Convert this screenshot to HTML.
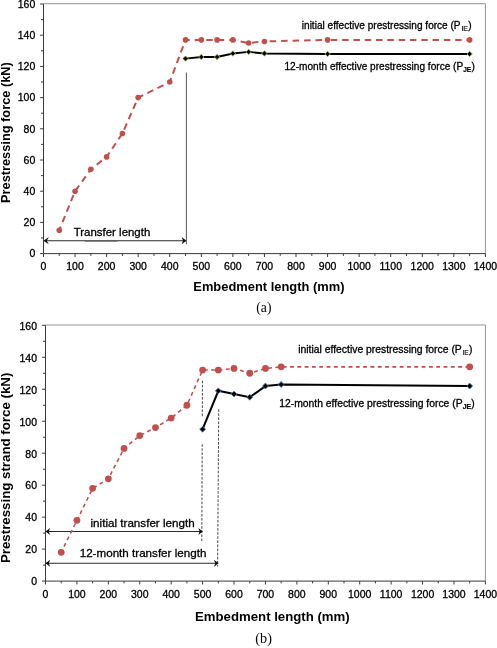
<!DOCTYPE html>
<html><head><meta charset="utf-8"><title>Prestressing force vs embedment length</title>
<style>
html,body{margin:0;padding:0;background:#fff;}
svg{display:block;}
text{font-family:"Liberation Sans",Arial,sans-serif;fill:#000;}
.tk text{font-size:10.5px;stroke:#000;stroke-width:0.3px;}
.ax{font-weight:bold;}
.lb{stroke:#000;stroke-width:0.3px;}
.lg{stroke:#000;stroke-width:0.3px;}
.sb{font-size:6.6px;stroke:#000;stroke-width:0.15px;}
.cap{font-family:"Liberation Serif","Times New Roman",serif;}
</style></head><body>
<svg width="497" height="648" viewBox="0 0 497 648">
<rect width="497" height="648" fill="#fff"/>
<path d="M43.50 3.70H485.40V253.60" fill="none" stroke="#808080" stroke-width="0.85"/>
<path d="M43.50 4.00V253.60H485.40" fill="none" stroke="#3a3a3a" stroke-width="1"/>
<path d="M43.50 253.60h-3.4M43.50 238.00h-2.5M43.50 222.40h-3.4M43.50 206.80h-2.5M43.50 191.20h-3.4M43.50 175.60h-2.5M43.50 160.00h-3.4M43.50 144.40h-2.5M43.50 128.80h-3.4M43.50 113.20h-2.5M43.50 97.60h-3.4M43.50 82.00h-2.5M43.50 66.40h-3.4M43.50 50.80h-2.5M43.50 35.20h-3.4M43.50 19.60h-2.5M43.50 4.00h-3.4M43.50 253.60v3.4M59.28 253.60v2.3M75.06 253.60v3.4M90.85 253.60v2.3M106.63 253.60v3.4M122.41 253.60v2.3M138.19 253.60v3.4M153.97 253.60v2.3M169.76 253.60v3.4M185.54 253.60v2.3M201.32 253.60v3.4M217.10 253.60v2.3M232.89 253.60v3.4M248.67 253.60v2.3M264.45 253.60v3.4M280.23 253.60v2.3M296.01 253.60v3.4M311.80 253.60v2.3M327.58 253.60v3.4M343.36 253.60v2.3M359.14 253.60v3.4M374.92 253.60v2.3M390.71 253.60v3.4M406.49 253.60v2.3M422.27 253.60v3.4M438.05 253.60v2.3M453.84 253.60v3.4M469.62 253.60v2.3M485.40 253.60v3.4" fill="none" stroke="#3a3a3a" stroke-width="1"/>
<g class="tk" text-anchor="end">
<text x="35.30" y="257.30">0</text>
<text x="35.30" y="226.10">20</text>
<text x="35.30" y="194.90">40</text>
<text x="35.30" y="163.70">60</text>
<text x="35.30" y="132.50">80</text>
<text x="35.30" y="101.30">100</text>
<text x="35.30" y="70.10">120</text>
<text x="35.30" y="38.90">140</text>
<text x="35.30" y="7.70">160</text>
</g><g class="tk" text-anchor="middle">
<text x="43.50" y="269.80">0</text>
<text x="75.06" y="269.80">100</text>
<text x="106.63" y="269.80">200</text>
<text x="138.19" y="269.80">300</text>
<text x="169.76" y="269.80">400</text>
<text x="201.32" y="269.80">500</text>
<text x="232.89" y="269.80">600</text>
<text x="264.45" y="269.80">700</text>
<text x="296.01" y="269.80">800</text>
<text x="327.58" y="269.80">900</text>
<text x="359.14" y="269.80">1000</text>
<text x="390.71" y="269.80">1100</text>
<text x="422.27" y="269.80">1200</text>
<text x="453.84" y="269.80">1300</text>
<text x="485.40" y="269.80">1400</text>
</g>
<path d="M186.4 72.5V244" stroke="#444" stroke-width="0.9" fill="none"/><path d="M44.50 240.70H185.40" stroke="#2a2a2a" stroke-width="1.15" fill="none"/><path d="M43.50 240.70l5.3 -3.6l-2.0 3.6l2.0 3.6Z" fill="#111"/><path d="M186.40 240.70l-4.7 -3.6l1.3 3.6l-1.3 3.6Z" fill="#111"/><path d="M85 241.35H117.5" stroke="#555" stroke-width="0.7" fill="none"/>
<polyline points="59.28,230.20 75.06,191.20 90.85,169.36 106.63,156.88 122.41,133.48 138.19,97.60 169.76,82.00 185.54,39.88" fill="none" stroke="#c0504d" stroke-width="2.0" stroke-dasharray="6.6 4.7" stroke-dashoffset="2.65" stroke-linejoin="round"/>
<polyline points="185.54,39.88 201.32,39.88 217.10,39.88 232.89,39.88 248.67,43.00 264.45,41.44" fill="none" stroke="#c0504d" stroke-width="2.0" stroke-dasharray="6.5 5" stroke-dashoffset="2.31" stroke-linejoin="round"/>
<polyline points="264.45,41.44 327.58,39.88" fill="none" stroke="#c0504d" stroke-width="2.0" stroke-dasharray="6.5 4.97" stroke-dashoffset="6.27" stroke-linejoin="round"/>
<polyline points="327.58,39.88 469.62,39.88" fill="none" stroke="#c0504d" stroke-width="2.0" stroke-dasharray="6.5 4.8" stroke-dashoffset="8.05" stroke-linejoin="round"/>
<circle cx="59.28" cy="230.20" r="2.8" fill="#c0504d"/>
<circle cx="75.06" cy="191.20" r="2.8" fill="#c0504d"/>
<circle cx="90.85" cy="169.36" r="2.8" fill="#c0504d"/>
<circle cx="106.63" cy="156.88" r="2.8" fill="#c0504d"/>
<circle cx="122.41" cy="133.48" r="2.8" fill="#c0504d"/>
<circle cx="138.19" cy="97.60" r="2.8" fill="#c0504d"/>
<circle cx="169.76" cy="82.00" r="2.8" fill="#c0504d"/>
<circle cx="185.54" cy="39.88" r="2.8" fill="#c0504d"/>
<circle cx="201.32" cy="39.88" r="2.8" fill="#c0504d"/>
<circle cx="217.10" cy="39.88" r="2.8" fill="#c0504d"/>
<circle cx="232.89" cy="39.88" r="2.8" fill="#c0504d"/>
<circle cx="248.67" cy="43.00" r="2.8" fill="#c0504d"/>
<circle cx="264.45" cy="41.44" r="2.8" fill="#c0504d"/>
<circle cx="327.58" cy="39.88" r="2.8" fill="#c0504d"/>
<circle cx="469.62" cy="39.88" r="2.8" fill="#c0504d"/>
<polyline points="185.54,58.60 201.32,57.04 217.10,57.04 232.89,53.45 248.67,51.89 264.45,53.45 327.58,53.92 469.62,53.92" fill="none" stroke="#000" stroke-width="1.95" stroke-linejoin="round"/>
<path d="M182.84 58.60L185.54 55.90L188.24 58.60L185.54 61.30Z" fill="#000" stroke="#9bbb59" stroke-width="0.85"/>
<path d="M198.62 57.04L201.32 54.34L204.02 57.04L201.32 59.74Z" fill="#000" stroke="#9bbb59" stroke-width="0.85"/>
<path d="M214.40 57.04L217.10 54.34L219.80 57.04L217.10 59.74Z" fill="#000" stroke="#9bbb59" stroke-width="0.85"/>
<path d="M230.19 53.45L232.89 50.75L235.59 53.45L232.89 56.15Z" fill="#000" stroke="#9bbb59" stroke-width="0.85"/>
<path d="M245.97 51.89L248.67 49.19L251.37 51.89L248.67 54.59Z" fill="#000" stroke="#9bbb59" stroke-width="0.85"/>
<path d="M261.75 53.45L264.45 50.75L267.15 53.45L264.45 56.15Z" fill="#000" stroke="#9bbb59" stroke-width="0.85"/>
<path d="M324.88 53.92L327.58 51.22L330.28 53.92L327.58 56.62Z" fill="#000" stroke="#9bbb59" stroke-width="0.85"/>
<path d="M466.92 53.92L469.62 51.22L472.32 53.92L469.62 56.62Z" fill="#000" stroke="#9bbb59" stroke-width="0.85"/>
<text class="ax" font-size="12.8" x="193.3" y="291.2" textLength="151.2" lengthAdjust="spacingAndGlyphs">Embedment length (mm)</text>
<text class="ax" font-size="12.8" text-anchor="middle" transform="translate(10.2 132.6) rotate(-90)" textLength="140.8" lengthAdjust="spacingAndGlyphs">Prestressing force (kN)</text>
<text class="lb" font-size="11.3" x="73.7" y="236" textLength="76.6" lengthAdjust="spacingAndGlyphs">Transfer length</text>
<text class="lg" font-size="10.2" x="301.8" y="29.0" textLength="158.8" lengthAdjust="spacingAndGlyphs">initial effective prestressing force (P</text><text class="sb" x="461.4" y="31.2" textLength="6.7" lengthAdjust="spacingAndGlyphs">IE</text><text class="lg" font-size="10.2" x="471.6" y="29.0" text-anchor="end">)</text>
<text class="lg" font-size="10.2" x="284.5" y="69.9" textLength="178.7" lengthAdjust="spacingAndGlyphs">12-month effective prestressing force (P</text><text class="sb" font-weight="bold" x="463.2" y="72.1" textLength="8.0" lengthAdjust="spacingAndGlyphs">JE</text><text class="lg" font-size="10.2" x="475.0" y="69.9" text-anchor="end">)</text>
<text class="cap" font-size="13.6" text-anchor="middle" x="263.9" y="312">(a)</text>
<path d="M45.50 325.00H485.40V581.10" fill="none" stroke="#808080" stroke-width="0.85"/>
<path d="M45.50 325.30V581.10H485.40" fill="none" stroke="#3a3a3a" stroke-width="1"/>
<path d="M45.50 581.10h-3.4M45.50 565.11h-2.5M45.50 549.12h-3.4M45.50 533.14h-2.5M45.50 517.15h-3.4M45.50 501.16h-2.5M45.50 485.18h-3.4M45.50 469.19h-2.5M45.50 453.20h-3.4M45.50 437.21h-2.5M45.50 421.23h-3.4M45.50 405.24h-2.5M45.50 389.25h-3.4M45.50 373.26h-2.5M45.50 357.27h-3.4M45.50 341.29h-2.5M45.50 325.30h-3.4M45.50 581.10v3.4M61.21 581.10v2.3M76.92 581.10v3.4M92.63 581.10v2.3M108.34 581.10v3.4M124.05 581.10v2.3M139.76 581.10v3.4M155.48 581.10v2.3M171.19 581.10v3.4M186.90 581.10v2.3M202.61 581.10v3.4M218.32 581.10v2.3M234.03 581.10v3.4M249.74 581.10v2.3M265.45 581.10v3.4M281.16 581.10v2.3M296.87 581.10v3.4M312.58 581.10v2.3M328.29 581.10v3.4M344.00 581.10v2.3M359.71 581.10v3.4M375.43 581.10v2.3M391.14 581.10v3.4M406.85 581.10v2.3M422.56 581.10v3.4M438.27 581.10v2.3M453.98 581.10v3.4M469.69 581.10v2.3M485.40 581.10v3.4" fill="none" stroke="#3a3a3a" stroke-width="1"/>
<g class="tk" text-anchor="end">
<text x="37.00" y="585.40">0</text>
<text x="37.00" y="553.43">20</text>
<text x="37.00" y="521.45">40</text>
<text x="37.00" y="489.48">60</text>
<text x="37.00" y="457.50">80</text>
<text x="37.00" y="425.53">100</text>
<text x="37.00" y="393.55">120</text>
<text x="37.00" y="361.57">140</text>
<text x="37.00" y="329.60">160</text>
</g><g class="tk" text-anchor="middle">
<text x="45.50" y="598.10">0</text>
<text x="76.92" y="598.10">100</text>
<text x="108.34" y="598.10">200</text>
<text x="139.76" y="598.10">300</text>
<text x="171.19" y="598.10">400</text>
<text x="202.61" y="598.10">500</text>
<text x="234.03" y="598.10">600</text>
<text x="265.45" y="598.10">700</text>
<text x="296.87" y="598.10">800</text>
<text x="328.29" y="598.10">900</text>
<text x="359.71" y="598.10">1000</text>
<text x="391.14" y="598.10">1100</text>
<text x="422.56" y="598.10">1200</text>
<text x="453.98" y="598.10">1300</text>
<text x="485.40" y="598.10">1400</text>
</g>
<path d="M202.45 380.7L202.3 416.7M202.2 444.2L201.8 542.3M218.75 409.2L217.6 566.4" stroke="#262626" stroke-width="0.85" stroke-dasharray="2.6 1.5" fill="none"/><path d="M46.50 531.50H201.90" stroke="#2a2a2a" stroke-width="1.15" fill="none"/><path d="M45.50 531.50l4.6 -3.5l-1.3 3.5l1.3 3.5Z" fill="#111"/><path d="M202.90 531.50l-4.6 -3.5l1.3 3.5l-1.3 3.5Z" fill="#111"/><path d="M46.50 563.20H217.60" stroke="#2a2a2a" stroke-width="1.15" fill="none"/><path d="M45.50 563.20l4.6 -3.5l-1.3 3.5l1.3 3.5Z" fill="#111"/><path d="M218.60 563.20l-4.6 -3.5l1.3 3.5l-1.3 3.5Z" fill="#111"/>
<polyline points="61.21,552.32 76.92,520.35 92.63,488.37 108.34,478.78 124.05,448.40 139.76,435.61 155.48,427.62 171.19,418.03 186.90,405.24 202.61,370.06 218.32,370.06 234.03,368.47 249.74,373.26 265.45,368.47 281.16,366.87 469.69,366.87" fill="none" stroke="#c0504d" stroke-width="1.55" stroke-dasharray="3.9 3.41" stroke-dashoffset="1.0" stroke-linejoin="round"/>
<polyline points="469.69,366.87" fill="none" stroke="#c0504d" stroke-width="1.55" stroke-dasharray="4.0 1.65" stroke-dashoffset="4.41" stroke-linejoin="round"/>
<circle cx="61.21" cy="552.32" r="3.4" fill="#c0504d"/>
<circle cx="76.92" cy="520.35" r="3.4" fill="#c0504d"/>
<circle cx="92.63" cy="488.37" r="3.4" fill="#c0504d"/>
<circle cx="108.34" cy="478.78" r="3.4" fill="#c0504d"/>
<circle cx="124.05" cy="448.40" r="3.4" fill="#c0504d"/>
<circle cx="139.76" cy="435.61" r="3.4" fill="#c0504d"/>
<circle cx="155.48" cy="427.62" r="3.4" fill="#c0504d"/>
<circle cx="171.19" cy="418.03" r="3.4" fill="#c0504d"/>
<circle cx="186.90" cy="405.24" r="3.4" fill="#c0504d"/>
<circle cx="202.61" cy="370.06" r="3.4" fill="#c0504d"/>
<circle cx="218.32" cy="370.06" r="3.4" fill="#c0504d"/>
<circle cx="234.03" cy="368.47" r="3.4" fill="#c0504d"/>
<circle cx="249.74" cy="373.26" r="3.4" fill="#c0504d"/>
<circle cx="265.45" cy="368.47" r="3.4" fill="#c0504d"/>
<circle cx="281.16" cy="366.87" r="3.4" fill="#c0504d"/>
<circle cx="469.69" cy="366.87" r="3.4" fill="#c0504d"/>
<polyline points="202.61,429.22 218.32,390.85 234.03,394.05 249.74,397.24 265.45,386.05 281.16,384.45 469.69,386.05" fill="none" stroke="#000" stroke-width="2.05" stroke-linejoin="round"/>
<path d="M199.66 429.22L202.61 426.27L205.56 429.22L202.61 432.17Z" fill="#000" stroke="#5b7ea6" stroke-width="0.85"/>
<path d="M215.37 390.85L218.32 387.90L221.27 390.85L218.32 393.80Z" fill="#000" stroke="#5b7ea6" stroke-width="0.85"/>
<path d="M231.08 394.05L234.03 391.10L236.98 394.05L234.03 397.00Z" fill="#000" stroke="#5b7ea6" stroke-width="0.85"/>
<path d="M246.79 397.24L249.74 394.29L252.69 397.24L249.74 400.19Z" fill="#000" stroke="#5b7ea6" stroke-width="0.85"/>
<path d="M262.50 386.05L265.45 383.10L268.40 386.05L265.45 389.00Z" fill="#000" stroke="#5b7ea6" stroke-width="0.85"/>
<path d="M278.21 384.45L281.16 381.50L284.11 384.45L281.16 387.40Z" fill="#000" stroke="#5b7ea6" stroke-width="0.85"/>
<path d="M466.74 386.05L469.69 383.10L472.64 386.05L469.69 389.00Z" fill="#000" stroke="#5b7ea6" stroke-width="0.85"/>
<text class="ax" font-size="13.2" x="195" y="621" textLength="154.7" lengthAdjust="spacingAndGlyphs">Embedment length (mm)</text>
<text class="ax" font-size="13.2" text-anchor="middle" transform="translate(10.1 467.9) rotate(-90)" textLength="190.4" lengthAdjust="spacingAndGlyphs">Prestressing strand force (kN)</text>
<text class="lb" font-size="11.6" x="90.5" y="526.6" textLength="104.2" lengthAdjust="spacingAndGlyphs">initial transfer length</text>
<text class="lb" font-size="11.6" x="79.7" y="557.4" textLength="126.7" lengthAdjust="spacingAndGlyphs">12-month transfer length</text>
<text class="lg" font-size="10.3" x="298.2" y="352.7" textLength="163.6" lengthAdjust="spacingAndGlyphs">initial effective prestressing force (P</text><text class="sb" x="462.4" y="354.9" textLength="6.2" lengthAdjust="spacingAndGlyphs">IE</text><text class="lg" font-size="10.3" x="472.4" y="352.7" text-anchor="end">)</text>
<text class="lg" font-size="10.3" x="279.2" y="407.0" textLength="183.4" lengthAdjust="spacingAndGlyphs">12-month effective prestressing force (P</text><text class="sb" font-weight="bold" x="462.7" y="409.2" textLength="8.5" lengthAdjust="spacingAndGlyphs">JE</text><text class="lg" font-size="10.3" x="474.8" y="407.0" text-anchor="end">)</text>
<text class="cap" font-size="14.2" text-anchor="middle" x="263.6" y="642.8">(b)</text>
</svg>
</body></html>
